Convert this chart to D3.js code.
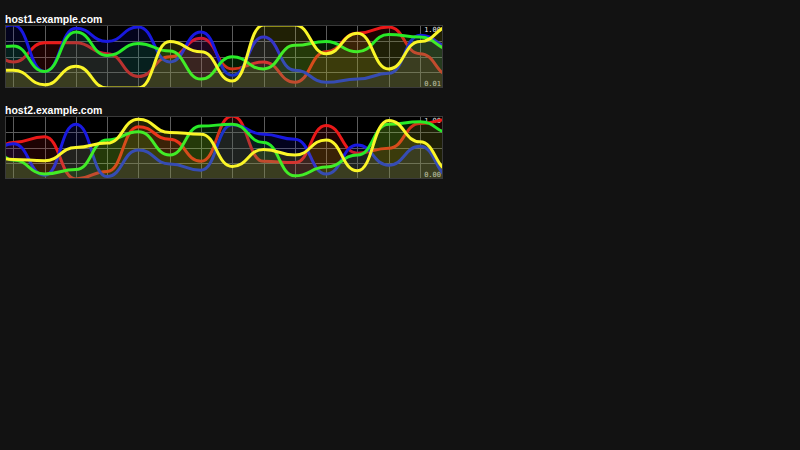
<!DOCTYPE html>
<html>
<head>
<meta charset="utf-8">
<script src="https://cdn.jsdelivr.net/npm/d3@7"></script>
<style>
  html, body { margin: 0; padding: 0; background: #121212; }
  svg { display: block; }
</style>
</head>
<body>
<svg width="800" height="450"></svg>
<script>
// sample times (one sample per grid line)
const times = [0, 1, 2, 3, 4, 5, 6, 7, 8, 9, 10, 11, 12, 13, 14, 15];
// visible time window
const windowStart = 0.735, windowEnd = 14.735;

const hosts = ["host1.example.com", "host2.example.com"];

// host1
const host1Red    = [0.69, 0.42, 0.72, 0.72, 0.55, 0.19, 0.50, 0.79, 0.31, 0.42, 0.10, 0.58, 0.87, 0.97, 0.55, 0.20];
const host1Blue   = [0.85, 1.00, 0.27, 0.95, 0.74, 0.97, 0.42, 0.89, 0.21, 0.81, 0.29, 0.10, 0.15, 0.24, 0.84, 0.66];
const host1Green  = [0.62, 0.67, 0.27, 0.89, 0.52, 0.71, 0.59, 0.15, 0.50, 0.31, 0.68, 0.74, 0.58, 0.85, 0.81, 0.62];
const host1Yellow = [0.29, 0.29, 0.06, 0.35, 0.01, 0.01, 0.74, 0.58, 0.12, 1.00, 1.00, 0.55, 0.87, 0.31, 0.74, 0.98];

// host2
const host2Red    = [0.30, 0.58, 0.67, 0.00, 0.12, 0.83, 0.63, 0.28, 1.00, 0.28, 0.26, 0.85, 0.41, 0.49, 0.88, 0.95];
const host2Blue   = [0.33, 0.56, 0.06, 0.87, 0.04, 0.46, 0.24, 0.14, 0.86, 0.71, 0.63, 0.08, 0.54, 0.22, 0.52, 0.03];
const host2Green  = [0.72, 0.30, 0.08, 0.15, 0.62, 0.75, 0.38, 0.84, 0.87, 0.58, 0.05, 0.19, 0.38, 0.87, 0.91, 0.73];
const host2Yellow = [0.40, 0.31, 0.29, 0.50, 0.57, 0.95, 0.74, 0.71, 0.20, 0.47, 0.38, 0.62, 0.13, 0.93, 0.59, 0.12];

const hostSeries = [
    [host1Red, host1Blue, host1Green, host1Yellow],
    [host2Red, host2Blue, host2Green, host2Yellow]
];

const colors = ["235,25,25", "25,25,225", "40,235,40", "250,245,40"];

const svg = d3.select("svg");
svg.append("rect").attr("width", 800).attr("height", 450).attr("fill", "#121212");

const left = 5,
    width = 438,
    height = 63,
    tops = [25, 116];

const x = d3.scaleLinear().domain([windowStart, windowEnd]).range([0, width]);

hosts.forEach((host, h) => {
    const series = hostSeries[h];
    const all = series.flat();
    const min = d3.min(all), max = d3.max(all);
    const y = d3.scaleLinear().domain([min, max]).range([height, 0]);

    // title
    svg.append("text")
        .attr("x", left)
        .attr("y", tops[h] - 2.5)
        .attr("fill", "#ffffff")
        .attr("font-family", "Liberation Sans, Arial, sans-serif")
        .attr("font-weight", "bold")
        .attr("font-size", "10.5px")
        .text(host);

    const g = svg.append("g").attr("transform", `translate(${left}, ${tops[h]})`);

    g.append("clipPath").attr("id", `clip${h}`)
        .append("rect").attr("width", width).attr("height", height);

    g.append("rect")
        .attr("width", width)
        .attr("height", height)
        .attr("fill", "#000000");

    const plot = g.append("g").attr("clip-path", `url(#clip${h})`);

    // grid: one vertical line per sample, four horizontal sections
    const grid = plot.append("g")
        .attr("stroke", "#5c5c5c")
        .attr("stroke-width", 1)
        .attr("shape-rendering", "crispEdges");
    grid.selectAll("line.v")
        .data(times.filter((t) => t > windowStart && t < windowEnd))
        .enter().append("line")
        .attr("class", "v")
        .attr("x1", (t) => Math.round(x(t)) + 0.5)
        .attr("x2", (t) => Math.round(x(t)) + 0.5)
        .attr("y1", 0)
        .attr("y2", height);
    grid.selectAll("line.h")
        .data([1, 2, 3])
        .enter().append("line")
        .attr("class", "h")
        .attr("x1", 0)
        .attr("x2", width)
        .attr("y1", (k) => Math.round((height * k) / 4) + 0.5)
        .attr("y2", (k) => Math.round((height * k) / 4) + 0.5);

    // min / max labels
    const labels = [
        { text: max.toFixed(2), y: 7 },
        { text: min.toFixed(2), y: height - 2 }
    ];
    plot.selectAll("text.lbl")
        .data(labels)
        .enter().append("text")
        .attr("class", "lbl")
        .attr("x", width - 2)
        .attr("y", (d) => d.y)
        .attr("text-anchor", "end")
        .attr("fill", "#e6e6e6")
        .attr("font-family", "DejaVu Sans Mono, monospace")
        .attr("font-size", "7px")
        .text((d) => d.text);

    const area = d3.area()
        .x((d, i) => x(times[i]))
        .y0(height + 2)
        .y1((d) => y(d))
        .curve(d3.curveBumpX);
    const line = d3.line()
        .x((d, i) => x(times[i]))
        .y((d) => y(d))
        .curve(d3.curveBumpX);

    series.forEach((values, s) => {
        plot.append("path")
            .attr("d", area(values))
            .attr("fill", `rgba(${colors[s]},0.13)`);
        plot.append("path")
            .attr("d", line(values))
            .attr("fill", "none")
            .attr("stroke", `rgb(${colors[s]})`)
            .attr("stroke-width", 3);
    });

    // border
    g.append("rect")
        .attr("x", 0.5)
        .attr("y", 0.5)
        .attr("width", width - 1)
        .attr("height", height - 1)
        .attr("fill", "none")
        .attr("stroke", "#3a3a3a")
        .attr("stroke-width", 1);
});
</script>
</body>
</html>
